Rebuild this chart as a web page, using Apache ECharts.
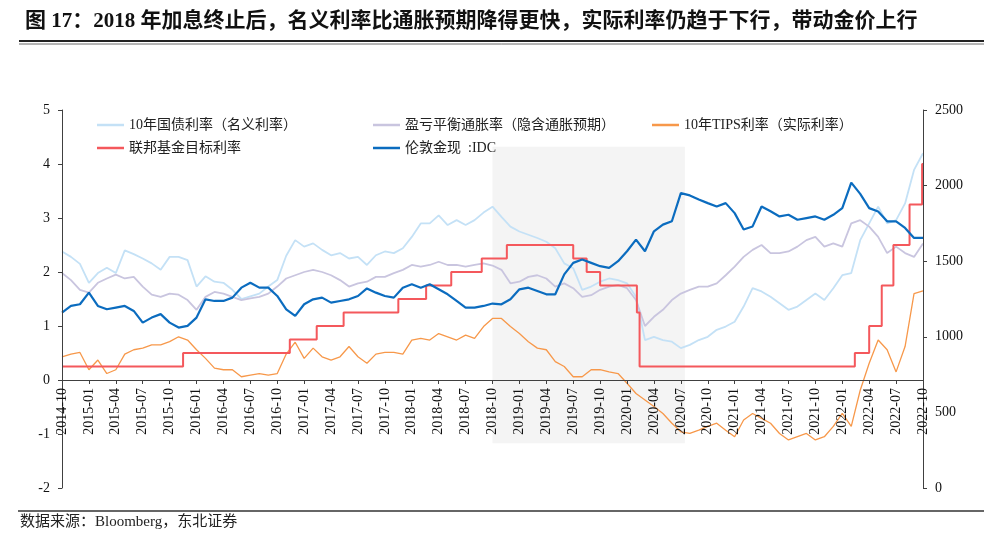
<!DOCTYPE html>
<html lang="zh">
<head>
<meta charset="UTF-8">
<title>名义利率、通胀预期与实际利率</title>
<script src="https://cdn.jsdelivr.net/npm/echarts@6/dist/echarts.min.js"></script>
<style>
    html, body { margin: 0; padding: 0; background: #fff; }
    #chart { width: 1000px; height: 545px; }
</style>
</head>
<body>
<div id="chart"></div>
<script type="text/javascript">
    // x 轴刻度标签，每 3 个月一个（位置 = 自 2014-10 起的月数）
    var xTicks = ['2014-10', '2015-01', '2015-04', '2015-07', '2015-10', '2016-01', '2016-04', '2016-07', '2016-10',
        '2017-01', '2017-04', '2017-07', '2017-10', '2018-01', '2018-04', '2018-07', '2018-10',
        '2019-01', '2019-04', '2019-07', '2019-10', '2020-01', '2020-04', '2020-07', '2020-10',
        '2021-01', '2021-04', '2021-07', '2021-10', '2022-01', '2022-04', '2022-07', '2022-10'];

    // 月度取值（2014-10 ... 2022-10，共 97 个）
    var tenY = [2.38, 2.28, 2.15, 1.80, 1.98, 2.08, 1.98, 2.40, 2.33, 2.25, 2.16, 2.04, 2.28, 2.28, 2.22, 1.73, 1.92, 1.82, 1.80, 1.67, 1.50, 1.55, 1.60, 1.73, 1.85,
        2.30, 2.59, 2.47, 2.53, 2.41, 2.31, 2.35, 2.25, 2.28, 2.13, 2.31, 2.38, 2.35, 2.44, 2.65, 2.90, 2.90, 3.05, 2.87, 2.96, 2.87, 2.96, 3.10, 3.21,
        3.02, 2.84, 2.75, 2.69, 2.63, 2.56, 2.44, 2.16, 2.07, 1.67, 1.73, 1.82, 1.88, 1.85, 1.79, 1.54, 0.74, 0.80, 0.74, 0.71, 0.59, 0.65, 0.74, 0.80,
        0.93, 0.99, 1.08, 1.36, 1.70, 1.64, 1.54, 1.42, 1.30, 1.36, 1.48, 1.60, 1.48, 1.70, 1.94, 1.98, 2.59, 2.90, 3.21, 2.90, 2.96, 3.27, 3.89, 4.20];

    var breakeven = [1.98, 1.85, 1.67, 1.62, 1.80, 1.88, 1.95, 1.88, 1.91, 1.73, 1.58, 1.54, 1.60, 1.58, 1.48, 1.30, 1.54, 1.63, 1.60, 1.54, 1.48, 1.51, 1.54, 1.60, 1.73,
        1.88, 1.94, 2.00, 2.04, 2.00, 1.94, 1.85, 1.73, 1.79, 1.82, 1.91, 1.91, 1.98, 2.04, 2.13, 2.10, 2.13, 2.19, 2.13, 2.13, 2.10, 2.13, 2.16, 2.12,
        2.04, 1.79, 1.82, 1.91, 1.94, 1.88, 1.73, 1.79, 1.70, 1.54, 1.57, 1.67, 1.73, 1.76, 1.70, 1.48, 1.00, 1.17, 1.30, 1.48, 1.60, 1.67, 1.73, 1.73,
        1.79, 1.94, 2.10, 2.28, 2.41, 2.50, 2.35, 2.35, 2.38, 2.47, 2.59, 2.65, 2.47, 2.53, 2.47, 2.90, 2.96, 2.84, 2.65, 2.35, 2.47, 2.35, 2.28, 2.53];

    var tips = [0.43, 0.48, 0.51, 0.19, 0.37, 0.12, 0.19, 0.48, 0.56, 0.59, 0.65, 0.65, 0.71, 0.80, 0.74, 0.56, 0.40, 0.22, 0.19, 0.19, 0.06, 0.09, 0.12, 0.09, 0.12,
        0.48, 0.70, 0.40, 0.59, 0.43, 0.37, 0.43, 0.62, 0.43, 0.31, 0.48, 0.51, 0.51, 0.48, 0.74, 0.77, 0.74, 0.86, 0.80, 0.74, 0.83, 0.77, 0.99, 1.14,
        1.14, 0.99, 0.86, 0.71, 0.59, 0.56, 0.34, 0.25, 0.06, 0.06, 0.19, 0.19, 0.15, 0.12, -0.06, -0.25, -0.37, -0.49, -0.62, -0.80, -0.96, -0.99, -0.93, -0.86,
        -0.80, -0.93, -1.05, -0.74, -0.62, -0.71, -0.80, -0.99, -1.11, -1.05, -0.99, -1.11, -1.05, -0.86, -0.62, -0.86, -0.19, 0.31, 0.74, 0.56, 0.15, 0.62, 1.60, 1.65];

    var gold = [1160, 1204, 1215, 1292, 1204, 1182, 1193, 1204, 1171, 1094, 1127, 1150, 1094, 1061, 1072, 1127, 1248, 1237, 1237, 1259, 1325, 1358, 1325, 1325, 1270,
        1182, 1138, 1215, 1248, 1259, 1226, 1237, 1248, 1270, 1320, 1292, 1270, 1259, 1325, 1347, 1325, 1347, 1314, 1281, 1237, 1193, 1193, 1204, 1220,
        1215, 1248, 1314, 1325, 1303, 1281, 1281, 1413, 1489, 1511, 1489, 1467, 1456, 1500, 1566, 1643, 1566, 1698, 1742, 1764, 1950, 1935, 1908, 1884,
        1862, 1884, 1818, 1710, 1730, 1862, 1830, 1796, 1807, 1774, 1785, 1796, 1774, 1807, 1851, 2020, 1945, 1851, 1829, 1764, 1764, 1720, 1654, 1654];

    // 联邦基金目标利率：调整时点（月数）与调整后利率
    var fedAt = [0, 13.5, 25.4, 28.4, 31.4, 37.5, 40.6, 43.4, 46.8, 49.6, 57.0, 58.5, 60.0, 64.1, 64.4, 88.4, 90.0, 91.4, 92.7, 94.5, 95.9, 96];
    var fedRate = [0.25, 0.5, 0.75, 1.0, 1.25, 1.5, 1.75, 2.0, 2.25, 2.5, 2.25, 2.0, 1.75, 1.25, 0.25, 0.5, 1.0, 1.75, 2.5, 3.25, 4.0, 4.0];

    // 阴影区间：2018-10 至 2020-07
    var shadeFrom = 48, shadeTo = 69.45;

    var names = ['10年国债利率（名义利率）', '盈亏平衡通胀率（隐含通胀预期）', '10年TIPS利率（实际利率）', '联邦基金目标利率', '伦敦金现  :IDC'];

    function pairs(arr) {
        return arr.map(function (v, i) { return [i, v]; });
    }

    var font = "'Liberation Serif', 'Noto Sans CJK SC', serif";
    var myChart = echarts.init(document.getElementById('chart'));

    function legendAt(name, left, top) {
        return {
            data: [name], left: left, top: top, icon: 'rect', itemWidth: 27, itemHeight: 2.5, padding: 0,
            textStyle: {fontFamily: font, fontSize: 14, color: '#222'}
        };
    }

    myChart.setOption({
        animation: false,
        backgroundColor: '#fff',
        title: {
            text: '图 17：2018 年加息终止后，名义利率比通胀预期降得更快，实际利率仍趋于下行，带动金价上行',
            left: 20, top: 6,
            textStyle: {fontFamily: font, fontSize: 21, fontWeight: 'bold', color: '#111'}
        },
        legend: [
            legendAt(names[0], 97, 118),
            legendAt(names[1], 373, 118),
            legendAt(names[2], 652, 118),
            legendAt(names[3], 97, 141),
            legendAt(names[4], 373, 141)
        ],
        grid: {left: 62, right: 77, top: 110, bottom: 57},
        xAxis: {
            type: 'value', min: 0, max: 96, interval: 3, offset: -108, z: 10,
            axisLine: {onZero: false, lineStyle: {color: '#404040', width: 1}},
            axisTick: {show: true, length: 4, lineStyle: {color: '#404040'}},
            axisLabel: {
                rotate: 90, margin: 8, fontFamily: font, fontSize: 14, color: '#111',
                showMinLabel: true, showMaxLabel: true,
                formatter: function (v) { return xTicks[Math.round(v / 3)]; }
            },
            splitLine: {show: false}
        },
        yAxis: [{
            type: 'value', min: -2, max: 5, interval: 1, z: 10,
            axisLine: {show: true, lineStyle: {color: '#404040'}},
            axisTick: {show: true, length: 4},
            axisLabel: {fontFamily: font, fontSize: 14, color: '#111', margin: 12,
                formatter: function (v) { return String(v); }},
            splitLine: {show: false}
        }, {
            type: 'value', min: 0, max: 2500, interval: 500, z: 10,
            axisLine: {show: true, lineStyle: {color: '#404040'}},
            axisTick: {show: true, length: 4},
            axisLabel: {fontFamily: font, fontSize: 14, color: '#111', margin: 12,
                formatter: function (v) { return String(v); }},
            splitLine: {show: false}
        }],
        series: [{
            name: names[0], type: 'line', symbol: 'none', data: pairs(tenY), z: 2,
            lineStyle: {color: '#c4e1f6', width: 1.8}, itemStyle: {color: '#c4e1f6'},
            markArea: {
                silent: true, z: 1,
                itemStyle: {color: '#f4f4f4'},
                data: [[{xAxis: shadeFrom, yAxis: 4.32}, {xAxis: shadeTo, yAxis: -1.17}]]
            }
        }, {
            name: names[1], type: 'line', symbol: 'none', data: pairs(breakeven), z: 2,
            lineStyle: {color: '#c9c5df', width: 1.8}, itemStyle: {color: '#c9c5df'}
        }, {
            name: names[2], type: 'line', symbol: 'none', data: pairs(tips), z: 2,
            lineStyle: {color: '#f7984a', width: 1.3}, itemStyle: {color: '#f7984a'}
        }, {
            name: names[3], type: 'line', symbol: 'none', step: 'end', z: 3,
            data: fedAt.map(function (x, i) { return [x, fedRate[i]]; }),
            lineStyle: {color: '#f4585c', width: 2}, itemStyle: {color: '#f4585c'}
        }, {
            name: names[4], type: 'line', symbol: 'none', yAxisIndex: 1, data: pairs(gold), z: 4,
            lineStyle: {color: '#0b6cbf', width: 2.2}, itemStyle: {color: '#0b6cbf'}
        }],
        graphic: [{
            type: 'line', shape: {x1: 19, y1: 41, x2: 984, y2: 41},
            style: {stroke: '#222', lineWidth: 2}
        }, {
            type: 'line', shape: {x1: 19, y1: 44, x2: 984, y2: 44},
            style: {stroke: '#444', lineWidth: 0.8}
        }, {
            type: 'line', shape: {x1: 18, y1: 511, x2: 984, y2: 511},
            style: {stroke: '#333', lineWidth: 1.5}
        }, {
            type: 'text', left: 20, top: 515,
            style: {text: '数据来源：Bloomberg，东北证券', font: '15px ' + font, fill: '#222'}
        }]
    });
</script>
</body>
</html>
